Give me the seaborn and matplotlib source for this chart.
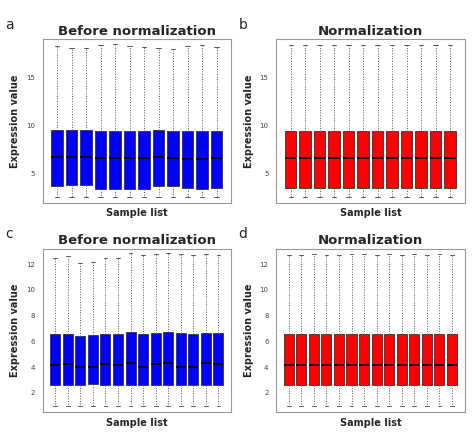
import matplotlib
matplotlib.use("Agg")
import matplotlib.pyplot as plt
import seaborn as sns
import pandas as pd

# Panel a (before normalization, 12 samples)
a_min = [2.6]*12
a_q1 = [3.7,3.8,3.8,3.4,3.4,3.45,3.45,3.75,3.7,3.5,3.4,3.55]
a_med = [6.75,6.8,6.75,6.65,6.65,6.65,6.6,6.75,6.65,6.5,6.5,6.6]
a_q3 = [9.6,9.55,9.55,9.5,9.5,9.45,9.45,9.55,9.5,9.45,9.45,9.45]
a_max = [18.3,18.1,18.1,18.4,18.5,18.3,18.2,18.1,18.0,18.3,18.4,18.2]
# Panel b (normalized, 12 samples)
b_min = [2.6]*12
b_q1 = [3.5]*12
b_med = [6.65]*12
b_q3 = [9.45]*12
b_max = [18.4]*12
# Panel c (before normalization, 14 samples)
c_min = [1.0]*14
c_q1 = [2.6,2.6,2.65,2.7,2.6,2.6,2.6,2.6,2.6,2.6,2.6,2.6,2.6,2.6]
c_med = [4.2,4.25,4.0,4.0,4.25,4.15,4.3,4.0,4.25,4.3,4.0,4.0,4.3,4.25]
c_q3 = [6.55,6.6,6.45,6.5,6.55,6.55,6.7,6.6,6.65,6.7,6.65,6.6,6.65,6.65]
c_max = [12.5,12.6,12.1,12.15,12.5,12.5,12.85,12.7,12.75,12.85,12.75,12.7,12.75,12.7]
# Panel d (normalized, 14 samples)
d_min = [1.0]*14
d_q1 = [2.6]*14
d_med = [4.15]*14
d_q3 = [6.6]*14
d_max = [12.7,12.7,12.75,12.7,12.7,12.75,12.8,12.7,12.75,12.7,12.75,12.7,12.8,12.7]

def frame(mn, q1, md, q3, mx):
    rows = []
    for i in range(len(mn)):
        for v in (mn[i], q1[i], md[i], q3[i], mx[i]):
            rows.append({"sample": f"S{i+1}", "value": v})
    return pd.DataFrame(rows)

panels = [
    ("a", "Before normalization", frame(a_min,a_q1,a_med,a_q3,a_max), "#0000ff", (2.0,19.0), [5,10,15], 12),
    ("b", "Normalization", frame(b_min,b_q1,b_med,b_q3,b_max), "#ff0000", (2.0,19.0), [5,10,15], 12),
    ("c", "Before normalization", frame(c_min,c_q1,c_med,c_q3,c_max), "#0000ff", (0.5,13.2), [2,4,6,8,10,12], 14),
    ("d", "Normalization", frame(d_min,d_q1,d_med,d_q3,d_max), "#ff0000", (0.5,13.2), [2,4,6,8,10,12], 14),
]

sns.set_style("white")
fig, axes = plt.subplots(2, 2, figsize=(4.74, 4.34), dpi=100)
for ax, (lab, title, df, col, ylim, yt, n) in zip(axes.flat, panels):
    sns.boxplot(data=df, x="sample", y="value", ax=ax, color=col, whis=(0,100),
                width=0.8, linewidth=0.6, saturation=1,
                boxprops=dict(facecolor=col, edgecolor="#333333"),
                medianprops=dict(color="black", linewidth=1.2),
                whiskerprops=dict(linestyle=":", color="#555555", linewidth=0.7),
                capprops=dict(color="#555555", linewidth=0.7), capwidths=0.3)
    ax.set_ylim(*ylim)
    ax.set_xlim(-1.0, n)
    ax.set_yticks(yt)
    ax.set_xticks([])
    ax.tick_params(axis="y", labelsize=5, length=2, colors="#444444")
    ax.set_xlabel("Sample list", fontsize=7, fontweight="bold", labelpad=4)
    ax.set_ylabel("Expression value", fontsize=7, fontweight="bold")
    ax.set_title(title, fontsize=9.5, fontweight="bold", pad=3)
    for s in ax.spines.values():
        s.set_color("#999999"); s.set_linewidth(0.8)
    ax.text(-0.2, 1.13, lab, transform=ax.transAxes, fontsize=10, va="top")

fig.subplots_adjust(left=0.09, right=0.98, top=0.91, bottom=0.05, wspace=0.24, hspace=0.28)
fig.savefig("out.png", dpi=100)
